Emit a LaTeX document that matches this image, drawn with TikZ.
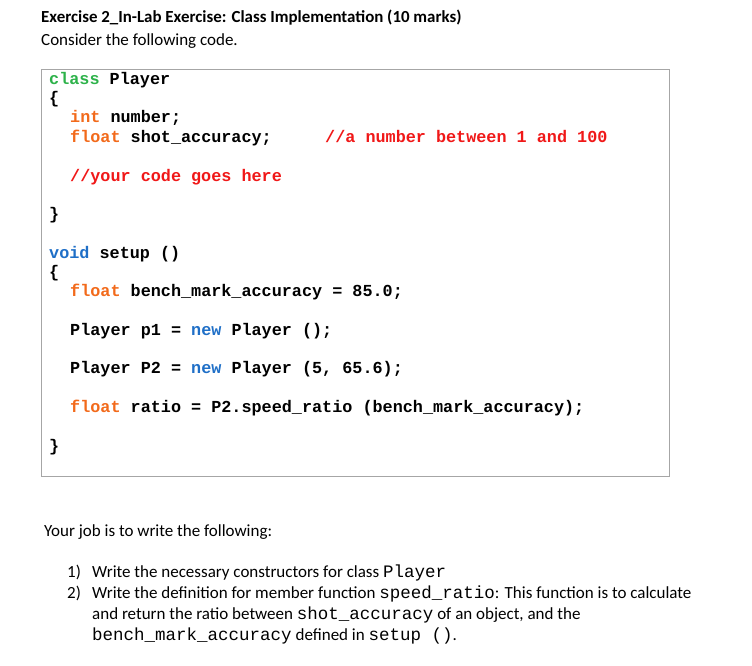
\documentclass[tikz,border=0pt]{standalone}
\usepackage{fontspec}
\setmainfont{Carlito}
\newfontfamily\cmono{Liberation Mono}
\definecolor{kgreen}{HTML}{2DB24A}
\definecolor{korange}{HTML}{F26A1B}
\definecolor{kblue}{HTML}{1F6FC7}
\definecolor{kred}{HTML}{F01818}
\tikzset{
  txt/.style={anchor=base west, inner sep=0pt, font=\fontsize{17}{19}\selectfont},
  code/.style={anchor=base west, inner sep=0pt, font=\cmono\bfseries\fontsize{16.8}{19}\selectfont},
}
\newcommand{\im}[1]{{\cmono\fontsize{17.5}{19}\selectfont #1}}
\begin{document}
\begin{tikzpicture}[x=1pt,y=-1pt]
\useasboundingbox (0,0) rectangle (752,665);
\node[txt,font=\bfseries\fontsize{16.9}{19}\selectfont] (t1) at (41,22) {Exercise 2\_In-Lab Exercise: Class Implementation (10 marks)};
\node[txt] (t2) at (41,45) {Consider the following code.};
\draw[gray!70, line width=1pt] (41,69) rectangle (669,476);
\node[code] (c1) at (49,84) {\textcolor{kgreen}{class} Player};
\node[code] (c2) at (49,103) {\{};
\node[code] (c3) at (70,122) {\textcolor{korange}{int} number;};
\node[code] (c4) at (70,142) {\textcolor{korange}{float} shot\_accuracy;};
\node[code] (c4b) at (325,142) {\textcolor{kred}{//a number between 1 and 100}};
\node[code] (c5) at (70,181) {\textcolor{kred}{//your code goes here}};
\node[code] (c6) at (49,219) {\}};
\node[code] (c7) at (49,258) {\textcolor{kblue}{void} setup ()};
\node[code] (c8) at (49,277) {\{};
\node[code] (c9) at (70,296) {\textcolor{korange}{float} bench\_mark\_accuracy = 85.0;};
\node[code] (c10) at (70,335) {Player p1 = \textcolor{kblue}{new} Player ();};
\node[code] (c11) at (70,373) {Player P2 = \textcolor{kblue}{new} Player (5, 65.6);};
\node[code] (c12) at (70,412) {\textcolor{korange}{float} ratio = P2.speed\_ratio (bench\_mark\_accuracy);};
\node[code] (c13) at (49,451) {\}};
\node[txt] (y1) at (44,536) {Your job is to write the following:};
\node[txt] (n1) at (67,577) {1)};
\node[txt] (l1) at (92,577) {Write the necessary constructors for class \im{Player}};
\node[txt] (n2) at (67,598) {2)};
\node[txt] (l2) at (92,598) {Write the definition for member function \im{speed\_ratio}: This function is to calculate};
\node[txt] (l3) at (92,619) {and return the ratio between \im{shot\_accuracy} of an object, and the};
\node[txt] (l4) at (92,640) {\im{bench\_mark\_accuracy} defined in \im{setup ()}.};
\end{tikzpicture}
\end{document}
